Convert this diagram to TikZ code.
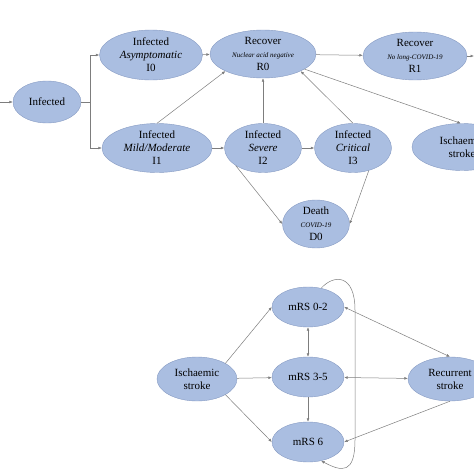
\documentclass[tikz,border=0pt]{standalone}
\usepackage{fontspec}
\setmainfont{Liberation Serif}
\usetikzlibrary{shapes.geometric,arrows.meta}
\definecolor{statefill}{RGB}{170,190,225}
\definecolor{stateline}{RGB}{135,155,195}
\definecolor{flowline}{RGB}{125,125,125}
\newcommand{\subnote}[1]{{\fontsize{7}{8}\selectfont\itshape #1}}
\begin{document}
\begin{tikzpicture}
            [x=1pt, y=-1pt, font=\fontsize{11}{13}\selectfont,
            state/.style={ellipse, fill=statefill, draw=stateline, thin,
            inner sep=0pt, align=center},
            flow/.style={draw=flowline, line width=0.5pt,
            -{Latex[length=3.5pt,width=2.8pt]}},
            both/.style={flow, {Latex[length=3.5pt,width=2.8pt]}-{Latex[length=3.5pt,width=2.8pt]}}]
            \useasboundingbox (0,0) rectangle (474,474);
            % COVID-19 states
            \node [state, minimum width=68pt, minimum height=42pt] (inf) at (47,102) {Infected};
            \node [state, minimum width=103pt, minimum height=50pt] (i0) at (151,55) {Infected\\\textit{Asymptomatic}\\I0};
            \node [state, minimum width=110pt, minimum height=49pt] (i1) at (157,148) {Infected\\\textit{Mild/Moderate}\\I1};
            \node [state, minimum width=106pt, minimum height=48pt] (r0) at (263,54) {Recover\\\subnote{Nuclear acid negative}\\R0};
            \node [state, minimum width=104pt, minimum height=48pt] (r1) at (415,56) {Recover\\\subnote{No long-COVID-19}\\R1};
            \node [state, minimum width=77pt, minimum height=49pt] (i2) at (263,148) {Infected\\\textit{Severe}\\I2};
            \node [state, minimum width=77pt, minimum height=49pt] (i3) at (353,148) {Infected\\\textit{Critical}\\I3};
            \node [state, minimum width=100pt, minimum height=47pt] (isc) at (462,147) {Ischaemic\\stroke};
            \node [state, minimum width=67pt, minimum height=48pt] (d0) at (316,224) {Death\\\subnote{COVID-19}\\D0};
            \coordinate (entry) at (0,102);
            \coordinate (fork) at (90,102);
            \coordinate (exit) at (474,56);
            \draw [flow] (entry) -- (inf);
            \draw [draw=flowline, line width=0.5pt] (inf.east) -- (fork);
            \draw [flow] (fork) |- (i0.west);
            \draw [flow] (fork) |- (i1.west);
            \draw [flow] (i0) -- (r0);
            \draw [flow] (i1.north) -- (r0.south west);
            \draw [flow] (i1) -- (i2);
            \draw [flow] (i2) -- (r0);
            \draw [flow] (i2) -- (i3);
            \draw [flow] (i3.north) -- (r0.south east);
            \draw [flow] (r0) -- (r1);
            \draw [flow] (r1) -- (exit);
            \draw [flow] (r0.-20) -- (isc.93);
            \draw [flow] (i2.south west) -- (d0.west);
            \draw [flow] (i3.-55) -- (d0.east);
            % stroke states
            \node [state, minimum width=80pt, minimum height=44pt] (isb) at (197,379) {Ischaemic\\stroke};
            \node [state, minimum width=72pt, minimum height=40pt] (m02) at (308,307) {mRS 0-2};
            \node [state, minimum width=72pt, minimum height=40pt] (m35) at (308,377) {mRS 3-5};
            \node [state, minimum width=72pt, minimum height=40pt] (m6) at (308,442) {mRS 6};
            \node [state, minimum width=84pt, minimum height=44pt] (rec) at (450,379) {Recurrent\\stroke};
            \draw [flow] (isb.north east) -- (m02.west);
            \draw [flow] (isb) -- (m35);
            \draw [flow] (isb.south east) -- (m6.west);
            \draw [both] (m02) -- (m35);
            \draw [flow] (m35) -- (m6);
            \draw [both] (m02.east) -- (rec.north);
            \draw [both] (m35) -- (rec);
            \draw [flow] (rec.south) -- (m6.east);
            \draw [flow] (m02.55) .. controls (334,274) and (355,274) .. (355,310)
                -- (355,440) .. controls (355,474) and (342,472) .. (m6.-55);
\end{tikzpicture}
\end{document}
